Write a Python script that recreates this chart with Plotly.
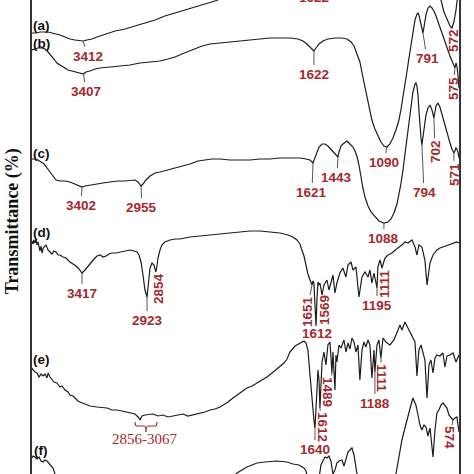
import plotly.graph_objects as go

# FTIR spectra, wavenumber (cm-1) vs. offset transmittance (a.u.)
wn_a = [3802, 3771, 3741, 3710, 3679, 3649, 3618, 3588, 3549, 3511, 3473, 3434, 3412, 3381, 3343,
        3304, 3243, 3166, 3090, 3013, 2937, 2860, 2784, 2707, 2630, 2554, 2477, 2401, 2324, 2133,
        1903, 1750, 1673, 1643, 1612, 1444, 1291, 1137, 984, 831, 716, 670, 647, 624, 601, 586,
        571, 555, 548, 532]
tr_a = [441, 441, 442, 442, 442, 441, 440, 439, 437, 435, 434, 433, 433, 434, 435,
        437, 440, 443, 445, 448, 451, 454, 458, 461, 464, 467, 470, 473, 477, 486,
        494, 498, 494, 486, 494, 498, 494, 489, 494, 496, 486, 474, 462, 454, 448, 446,
        452, 464, 474, 489]

wn_b = [3802, 3779, 3756, 3725, 3702, 3679, 3657, 3634, 3611, 3588, 3557, 3526, 3496, 3465, 3434,
        3407, 3389, 3358, 3320, 3281, 3205, 3128, 3052, 2975, 2898, 2822, 2761, 2707, 2654, 2592,
        2546, 2500, 2439, 2362, 2286, 2209, 2133, 2056, 1980, 1903, 1827, 1765, 1727, 1696, 1673,
        1658, 1643, 1627, 1604, 1574, 1536, 1482, 1428, 1390, 1359, 1336, 1314, 1291, 1268, 1245,
        1222, 1199, 1176, 1153, 1130, 1107, 1084, 1061, 1038, 1015, 992, 977, 961, 946, 931,
        915, 900, 885, 869, 854, 846, 839, 823, 808, 800, 785, 770, 754, 739, 724,
        708, 693, 678, 663, 647, 632, 617, 601, 586, 571, 563, 555, 548, 540, 532]
tr_b = [424, 425, 426, 426, 425, 422, 418, 415, 411, 409, 406, 404, 403, 402, 401,
        400, 402, 403, 405, 406, 407, 408, 409, 411, 412, 413, 415, 417, 420, 423,
        426, 428, 430, 431, 432, 433, 434, 435, 436, 436, 436, 435, 433, 430, 427,
        425, 423, 426, 430, 433, 435, 436, 436, 435, 432, 428, 421, 412, 397, 382,
        367, 354, 345, 338, 332, 328, 327, 330, 336, 344, 354, 364, 376, 389, 402,
        416, 430, 444, 454, 460, 461, 459, 450, 441, 447, 459, 466, 468, 466, 463,
        458, 452, 446, 440, 434, 429, 424, 418, 413, 409, 406, 411, 408, 399, 386]

wn_c = [3802, 3779, 3756, 3733, 3710, 3687, 3664, 3641, 3618, 3588, 3549, 3511, 3473, 3442, 3419,
        3396, 3358, 3312, 3258, 3205, 3143, 3090, 3044, 3013, 2990, 2967, 2952, 2929, 2898, 2860,
        2822, 2761, 2707, 2646, 2592, 2531, 2477, 2424, 2362, 2286, 2209, 2133, 2056, 1980, 1903,
        1827, 1750, 1704, 1673, 1650, 1635, 1620, 1604, 1581, 1559, 1536, 1513, 1490, 1474, 1459,
        1451, 1436, 1421, 1405, 1390, 1375, 1359, 1344, 1329, 1314, 1298, 1283, 1268, 1252, 1229,
        1206, 1176, 1145, 1107, 1076, 1053, 1030, 1007, 992, 977, 961, 946, 931, 915, 900,
        885, 869, 862, 854, 846, 839, 831, 823, 816, 808, 800, 785, 770, 754, 739,
        724, 716, 708, 693, 678, 663, 647, 632, 617, 601, 586, 571, 563, 555, 548,
        540, 532]
tr_c = [315, 315, 314, 312, 310, 306, 302, 297, 294, 293, 293, 292, 290, 288, 287,
        288, 289, 290, 291, 292, 293, 293, 294, 294, 292, 288, 290, 294, 298, 301,
        302, 304, 306, 308, 310, 313, 314, 315, 315, 314, 314, 314, 315, 315, 316,
        316, 316, 315, 314, 311, 316, 322, 327, 330, 330, 328, 325, 321, 319, 317,
        322, 328, 330, 332, 333, 331, 329, 327, 323, 318, 309, 296, 286, 277, 268,
        262, 257, 253, 251, 252, 255, 261, 270, 279, 290, 304, 319, 334, 352, 369,
        382, 390, 391, 388, 379, 364, 347, 336, 329, 336, 346, 359, 366, 369, 364,
        356, 362, 368, 371, 367, 360, 352, 344, 337, 331, 325, 321, 323, 326, 325,
        322, 316]

wn_d = [3802, 3794, 3787, 3779, 3771, 3764, 3756, 3748, 3741, 3733, 3725, 3718, 3710, 3695, 3679,
        3664, 3649, 3634, 3618, 3603, 3588, 3565, 3542, 3511, 3488, 3465, 3442, 3419, 3396, 3373,
        3350, 3327, 3304, 3281, 3258, 3235, 3212, 3189, 3159, 3128, 3090, 3052, 3021, 2998, 2983,
        2967, 2952, 2937, 2921, 2914, 2906, 2898, 2883, 2868, 2853, 2845, 2837, 2822, 2807, 2784,
        2745, 2707, 2669, 2592, 2516, 2439, 2362, 2286, 2209, 2133, 2056, 1980, 1903, 1842, 1804,
        1773, 1750, 1735, 1719, 1704, 1689, 1673, 1658, 1650, 1643, 1635, 1627, 1620, 1612, 1604,
        1597, 1581, 1566, 1543, 1528, 1513, 1497, 1482, 1467, 1444, 1421, 1398, 1382, 1359, 1344,
        1321, 1298, 1275, 1252, 1229, 1214, 1199, 1183, 1160, 1153, 1137, 1122, 1099, 1076, 1046,
        1023, 1000, 969, 946, 923, 892, 869, 854, 839, 816, 793, 777, 754, 731, 701,
        678, 655, 617, 578, 548, 532]
tr_d = [233, 230, 234, 231, 235, 229, 232, 226, 223, 228, 221, 225, 227, 229, 224,
        222, 220, 223, 222, 219, 219, 217, 216, 212, 210, 208, 205, 201, 204, 208,
        211, 215, 218, 219, 217, 218, 220, 221, 221, 222, 223, 224, 223, 222, 219,
        212, 199, 184, 177, 184, 196, 206, 211, 209, 202, 208, 216, 224, 229, 232,
        234, 235, 235, 237, 238, 239, 240, 241, 242, 243, 243, 242, 241, 239, 237,
        234, 230, 224, 218, 209, 200, 194, 189, 193, 191, 169, 148, 174, 192, 189,
        191, 179, 189, 194, 184, 191, 199, 181, 191, 201, 206, 197, 209, 212, 204,
        207, 177, 197, 202, 197, 204, 191, 201, 186, 207, 214, 206, 216, 219, 221,
        224, 226, 229, 232, 231, 234, 227, 219, 229, 227, 214, 189, 211, 219, 224,
        226, 227, 229, 231, 232, 231]

wn_e = [3802, 3794, 3779, 3764, 3748, 3733, 3718, 3702, 3687, 3679, 3664, 3649, 3634, 3611, 3588,
        3572, 3549, 3526, 3511, 3488, 3473, 3450, 3434, 3396, 3358, 3304, 3228, 3189, 3151, 3113,
        3075, 3036, 3013, 2990, 2975, 2960, 2937, 2875, 2837, 2799, 2761, 2722, 2684, 2646, 2608,
        2577, 2546, 2516, 2477, 2439, 2401, 2362, 2324, 2301, 2263, 2232, 2194, 2156, 2117, 2079,
        2041, 2003, 1964, 1926, 1903, 1872, 1849, 1827, 1788, 1750, 1719, 1704, 1689, 1673, 1658,
        1643, 1635, 1627, 1620, 1612, 1604, 1597, 1589, 1581, 1566, 1551, 1536, 1520, 1505, 1497,
        1482, 1474, 1467, 1451, 1436, 1413, 1398, 1382, 1367, 1352, 1336, 1321, 1306, 1291, 1275,
        1260, 1245, 1229, 1214, 1199, 1183, 1176, 1160, 1145, 1130, 1114, 1092, 1061, 1030, 1007,
        984, 969, 946, 923, 908, 885, 869, 854, 839, 823, 808, 793, 777, 762, 747,
        731, 716, 701, 678, 655, 640, 624, 601, 578, 555, 540, 532]
tr_e = [106, 104, 102, 101, 97, 100, 98, 100, 96, 101, 97, 94, 92, 91, 87,
        88, 84, 82, 79, 78, 76, 73, 72, 70, 68, 67, 66, 64, 64, 63,
        62, 61, 60, 57, 54, 58, 59, 60, 58, 59, 57, 58, 59, 60, 58,
        59, 60, 61, 62, 64, 65, 67, 70, 72, 76, 79, 83, 86, 88, 91,
        94, 97, 101, 105, 107, 111, 115, 122, 128, 131, 133, 131, 124, 99, 74,
        54, 46, 64, 89, 104, 94, 66, 89, 112, 122, 109, 129, 132, 101, 122,
        84, 119, 112, 129, 126, 134, 122, 131, 125, 136, 132, 122, 129, 94, 124,
        132, 127, 134, 129, 96, 124, 102, 129, 134, 116, 136, 132, 129, 134, 142,
        149, 144, 152, 146, 142, 137, 132, 98, 124, 129, 122, 114, 76, 109, 114,
        101, 116, 119, 118, 121, 107, 118, 119, 121, 112, 118, 119]

wn_f = [3802, 3794, 3779, 3764, 3748, 3733, 3718, 3702, 3687, 3672, 3657, 3641, 3626, 3603, 3511,
        2898, 2286, 2232, 2194, 2156, 2117, 2079, 2018, 1926, 1849, 1804, 1758, 1719, 1704, 1689,
        1635, 1604, 1589, 1574, 1559, 1543, 1528, 1513, 1497, 1482, 1467, 1451, 1428, 1413, 1398,
        1382, 1367, 1352, 1336, 1321, 1306, 1214, 1061, 1015, 992, 969, 946, 923, 900, 885,
        862, 846, 831, 816, 800, 785, 770, 754, 739, 731, 716, 701, 686, 670, 655,
        640, 624, 609, 594, 578, 563, 548, 540, 532]
tr_f = [16, 18, 17, 15, 17, 13, 12, 14, 13, 11, 9, 6, 0, -8, -26,
        -36, -6, 1, 4, 7, 9, 11, 12, 13, 12, 10, 9, 6, 3, -6,
        -16, -4, 9, 14, 17, 16, 18, 13, 0, 4, 11, 13, 14, 8, 16,
        22, 24, 26, 19, 4, -6, -26, -16, 0, 19, 34, 46, 59, 69, 76,
        69, 59, 49, 44, 49, 47, 38, 46, 29, 17, 44, 61, 64, 69, 71,
        68, 66, 59, 56, 54, 56, 57, 49, 42]

# band labels and the wavenumber of the band they point at
labels_a, bands_a = ["3412", "572"], [3412, 586]
labels_b, bands_b = ["3407", "1622", "1090", "791", "575"], [3407, 1643, 1084, 808, 563]
labels_c, bands_c = (["3402", "2955", "1621", "1443", "1088", "794", "702", "571"],
                     [3419, 2967, 1650, 1459, 1107, 816, 724, 571])
labels_d, bands_d = (["3417", "2923", "2854", "1651", "1612", "1569", "1195", "1111"],
                     [3419, 2921, 2853, 1658, 1627, 1581, 1160, 1122])
labels_e, bands_e = ["1640", "1612", "1489", "1188", "1111"], [1635, 1597, 1505, 1176, 1130]
labels_f, bands_f = ["574"], [578]
names = ["(a)", "(b)", "(c)", "(d)", "(e)", "(f)"]

# text placement (wavenumber, height, angle) for each band label
place_a = [(3373, 418, 0), (578, 434, -90)]
place_b = [(3389, 383, 0), (1643, 400, 0), (1107, 312, 0), (777, 416, 0), (578, 386, -90)]
place_c = [(3427, 269, 0), (2960, 267, 0), (1658, 282, 0), (1467, 297, 0),
           (1107, 236, 0), (800, 282, 0), (716, 323, -90), (571, 300, -90)]
place_d = [(3419, 181, 0), (2921, 154, 0), (2837, 185, -90), (1696, 162, -90),
           (1620, 141, 0), (1566, 164, -90), (1160, 169, 0), (1107, 190, -90)]
place_e = [(1635, 25, 0), (1574, 47, 90), (1536, 82, 90), (1176, 71, 0), (1122, 96, 90)]
place_f = [(601, 36, 90)]
name_y = [449, 431, 321, 242, 115, 24]

RED = "#a32a2e"
LINE = "#1c1c1c"
num_font = dict(family="Arial, Liberation Sans", size=13.5, color=RED, weight="bold")

spectra = [
    (wn_a, tr_a, labels_a, bands_a, place_a),
    (wn_b, tr_b, labels_b, bands_b, place_b),
    (wn_c, tr_c, labels_c, bands_c, place_c),
    (wn_d, tr_d, labels_d, bands_d, place_d),
    (wn_e, tr_e, labels_e, bands_e, place_e),
    (wn_f, tr_f, labels_f, bands_f, place_f),
]

fig = go.Figure()
for wn, tr, labels, bands, place in spectra:
    assert len(wn) == len(tr)
    fig.add_trace(go.Scatter(x=wn, y=tr, mode="lines",
                             line=dict(color=LINE, width=1.2), hoverinfo="skip"))
    for text, band, (tx, ty, ang) in zip(labels, bands, place):
        fig.add_annotation(
            x=band, y=tr[wn.index(band)], ax=tx, ay=ty, axref="x", ayref="y",
            text=text, textangle=ang, showarrow=True, arrowhead=0,
            arrowwidth=1, arrowcolor="#555", standoff=0, startstandoff=0,
            font=num_font,
        )

for name, y in zip(names, name_y):
    fig.add_annotation(x=3733, y=y, text=name, showarrow=False,
                       font=dict(family="Arial, Liberation Sans", size=13.5,
                                 color="#111", weight="bold"))

# label of spectrum (a) that sits just above the crop
fig.add_annotation(x=1643, y=467, text="1622", showarrow=False, yanchor="bottom",
                   font=num_font)

# broad C-H band of (e), marked with a brace
x0, x1, xm = 3013, 2845, 2929
fig.add_shape(
    type="path",
    path=(f"M {x0},52 Q {x0},48 {x0 - 15},48 L {xm + 15},48 Q {xm},48 {xm},42 "
          f"Q {xm},48 {xm - 15},48 L {x1 + 15},48 Q {x1},48 {x1},52"),
    line=dict(color=RED, width=1.2),
)
fig.add_annotation(x=2937, y=35, text="2856-3067", showarrow=False,
                   font=dict(family="Liberation Serif, Times New Roman", size=15, color=RED))

fig.add_annotation(
    xref="paper", yref="paper", x=-0.047, y=0.533, text="Transmittance (%)",
    xanchor="center", yanchor="middle", textangle=-90, showarrow=False,
    font=dict(family="Liberation Serif, Times New Roman", size=18, color="#111", weight="bold"),
)

fig.update_xaxes(range=[3802, 532], showline=False, showticklabels=False,
                 showgrid=False, zeroline=False, ticks="")
fig.update_yaxes(range=[0, 474], showline=True, mirror=True, linecolor="#333",
                 linewidth=1.5, showticklabels=False, showgrid=False,
                 zeroline=False, ticks="")
fig.update_layout(
    width=474, height=474, showlegend=False,
    margin=dict(l=32, r=15, t=0, b=0),
    paper_bgcolor="white", plot_bgcolor="white",
)

# the page's default body margin would shift the figure by 8px
fig.write_html("out.html", config={"displayModeBar": False},
               post_script="document.body.style.margin='0';")
